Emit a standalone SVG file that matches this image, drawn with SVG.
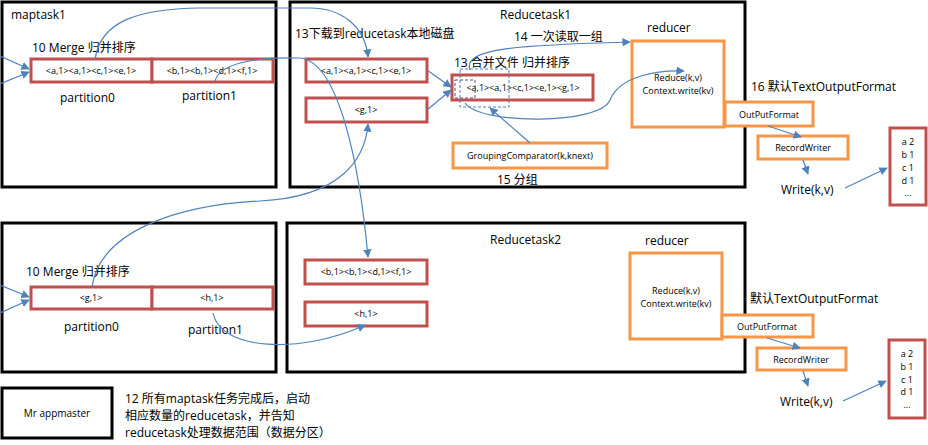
<svg xmlns="http://www.w3.org/2000/svg" width="928" height="445" viewBox="0 0 928 445">
<defs>
<style>
text{font-family:"Open Sans","Noto Sans CJK SC",sans-serif;fill:#000}
.t{font-size:12px}
.s{font-size:9px;text-anchor:middle}
.m{font-size:10px;text-anchor:middle}
.blk{fill:#fff;stroke:#000;stroke-width:3}
.red{fill:#fff;stroke:#c0504d;stroke-width:3}
.org{fill:#fff;stroke:#f79646;stroke-width:3}
.c{fill:none;stroke:#4f81bd;stroke-width:1.2;marker-end:url(#a)}
</style>
<marker id="a" viewBox="0 0 10 10" refX="9" refY="5" markerWidth="7" markerHeight="7" orient="auto"><path d="M0,0L10,5L0,10z" fill="#4f81bd"/></marker>
</defs>
<rect width="928" height="445" fill="#fff"/>
<g id="maptask1">
<rect class="blk" x="2" y="2" width="274" height="185"/>
<text class="t" x="11" y="19">maptask1</text>
<text class="t" x="32" y="52">10 Merge 归并排序</text>
<rect class="red" x="31" y="59" width="121" height="23"/><text class="s" x="91" y="74">&lt;a,1&gt;&lt;a,1&gt;&lt;c,1&gt;&lt;e,1&gt;</text>
<rect class="red" x="152" y="59" width="121" height="23"/><text class="s" x="212" y="74">&lt;b,1&gt;&lt;b,1&gt;&lt;d,1&gt;&lt;f,1&gt;</text>
<text class="t" x="60" y="102">partition0</text>
<text class="t" x="182" y="100">partition1</text>
</g>
<g id="reducetask1">
<rect class="blk" x="290" y="2" width="455" height="185"/>
<text class="t" x="500" y="19">Reducetask1</text>
<text class="t" x="295" y="38">13下载到reducetask本地磁盘</text>
<rect class="red" x="306" y="59" width="121" height="23"/><text class="s" x="366" y="74">&lt;a,1&gt;&lt;a,1&gt;&lt;c,1&gt;&lt;e,1&gt;</text>
<rect class="red" x="306" y="98" width="121" height="24"/><text class="s" x="366" y="113">&lt;g,1&gt;</text>
<text class="t" x="514" y="41">14 一次读取一组</text>
<text class="t" x="454" y="67">13 合并文件 归并排序</text>
<rect class="red" x="452" y="75" width="141" height="25"/><text class="s" x="523" y="91">&lt;a,1&gt;&lt;a,1&gt;&lt;c,1&gt;&lt;e,1&gt;&lt;g,1&gt;</text>
<rect x="460" y="69" width="49" height="38" fill="none" stroke="#4f81bd" stroke-dasharray="3,2"/>
<rect x="455" y="80" width="20" height="18" fill="none" stroke="#604a7b" stroke-dasharray="3,2"/>
<text class="t" x="647" y="32">reducer</text>
<rect class="org" x="632" y="41" width="92" height="86"/>
<text class="s" x="678" y="81">Reduce(k,v)</text><text class="s" x="678" y="94">Context.write(kv)</text>
<rect class="org" x="453" y="143" width="154" height="25"/><text class="s" x="530" y="159">GroupingComparator(k,knext)</text>
<text class="t" x="497" y="184">15 分组</text>
</g>
<g id="output1">
<text class="t" x="751" y="91">16 默认TextOutputFormat</text>
<rect class="org" x="725" y="102" width="88" height="24"/><text class="s" x="769" y="118">OutPutFormat</text>
<rect class="org" x="758" y="136" width="90" height="23"/><text class="s" x="803" y="151">RecordWriter</text>
<text class="t" x="781" y="194">Write(k,v)</text>
<rect class="red" x="890" y="128" width="36" height="77"/>
<text class="s" x="908" y="145">a 2</text><text class="s" x="908" y="158">b 1</text><text class="s" x="908" y="171">c 1</text><text class="s" x="908" y="184">d 1</text><text class="s" x="908" y="196">...</text>
</g>
<g id="maptask2">
<rect class="blk" x="2" y="223" width="274" height="149"/>
<text class="t" x="26" y="276">10 Merge 归并排序</text>
<rect class="red" x="31" y="287" width="121" height="22"/><text class="s" x="91" y="301">&lt;g,1&gt;</text>
<rect class="red" x="152" y="287" width="121" height="22"/><text class="s" x="212" y="301">&lt;h,1&gt;</text>
<text class="t" x="64" y="331">partition0</text>
<text class="t" x="188" y="334">partition1</text>
</g>
<g id="reducetask2">
<rect class="blk" x="287" y="223" width="458" height="149"/>
<text class="t" x="490" y="244">Reducetask2</text>
<rect class="red" x="305" y="260" width="122" height="24"/><text class="s" x="366" y="275">&lt;b,1&gt;&lt;b,1&gt;&lt;d,1&gt;&lt;f,1&gt;</text>
<rect class="red" x="305" y="302" width="122" height="24"/><text class="s" x="366" y="317">&lt;h,1&gt;</text>
<text class="t" x="645" y="245">reducer</text>
<rect class="org" x="630" y="253" width="92" height="86"/>
<text class="s" x="676" y="294">Reduce(k,v)</text><text class="s" x="676" y="307">Context.write(kv)</text>
</g>
<g id="output2">
<text class="t" x="750" y="303">默认TextOutputFormat</text>
<rect class="org" x="722" y="315" width="91" height="22"/><text class="s" x="767" y="330">OutPutFormat</text>
<rect class="org" x="757" y="348" width="89" height="22"/><text class="s" x="801" y="363">RecordWriter</text>
<text class="t" x="780" y="406">Write(k,v)</text>
<rect class="red" x="889" y="340" width="36" height="78"/>
<text class="s" x="907" y="357">a 2</text><text class="s" x="907" y="370">b 1</text><text class="s" x="907" y="383">c 1</text><text class="s" x="907" y="395">d 1</text><text class="s" x="907" y="408">...</text>
</g>
<g id="appmaster">
<rect class="blk" x="2" y="388" width="110" height="50"/>
<text class="m" x="57" y="417">Mr appmaster</text>
<text class="t" x="125" y="403">12 所有maptask任务完成后，启动</text>
<text class="t" x="125" y="420">相应数量的reducetask，并告知</text>
<text class="t" x="125" y="437">reducetask处理数据范围（数据分区）</text>
</g>
<g id="connectors">
<path class="c" d="M0,56L29,69"/><path class="c" d="M0,84L29,72"/>
<path class="c" d="M0,285L29,297"/><path class="c" d="M0,313L29,300"/>
<path class="c" d="M95,60C100,20 140,9 200,8L310,8C340,8 365,25 368,57"/>
<path class="c" d="M215,81C220,60 270,57 300,58C340,62 360,170 368,257"/>
<path class="c" d="M92,287C100,230 180,205 260,201C340,197 365,160 368,124"/>
<path class="c" d="M213,313C220,350 300,355 365,325"/>
<path class="c" d="M427,70L451,87"/><path class="c" d="M427,110L451,90"/>
<path class="c" d="M470,70C462,48 520,45 630,42"/>
<path class="c" d="M465,103C480,125 600,125 610,100C620,75 660,70 684,71"/>
<path class="c" d="M530,143L490,108"/>
<path class="c" d="M768,126L801,137"/><path class="c" d="M803,160L808,174"/><path class="c" d="M845,188L887,168"/>
<path class="c" d="M767,338L800,348"/><path class="c" d="M803,371L808,386"/><path class="c" d="M843,401L886,381"/>
</g>
</svg>
